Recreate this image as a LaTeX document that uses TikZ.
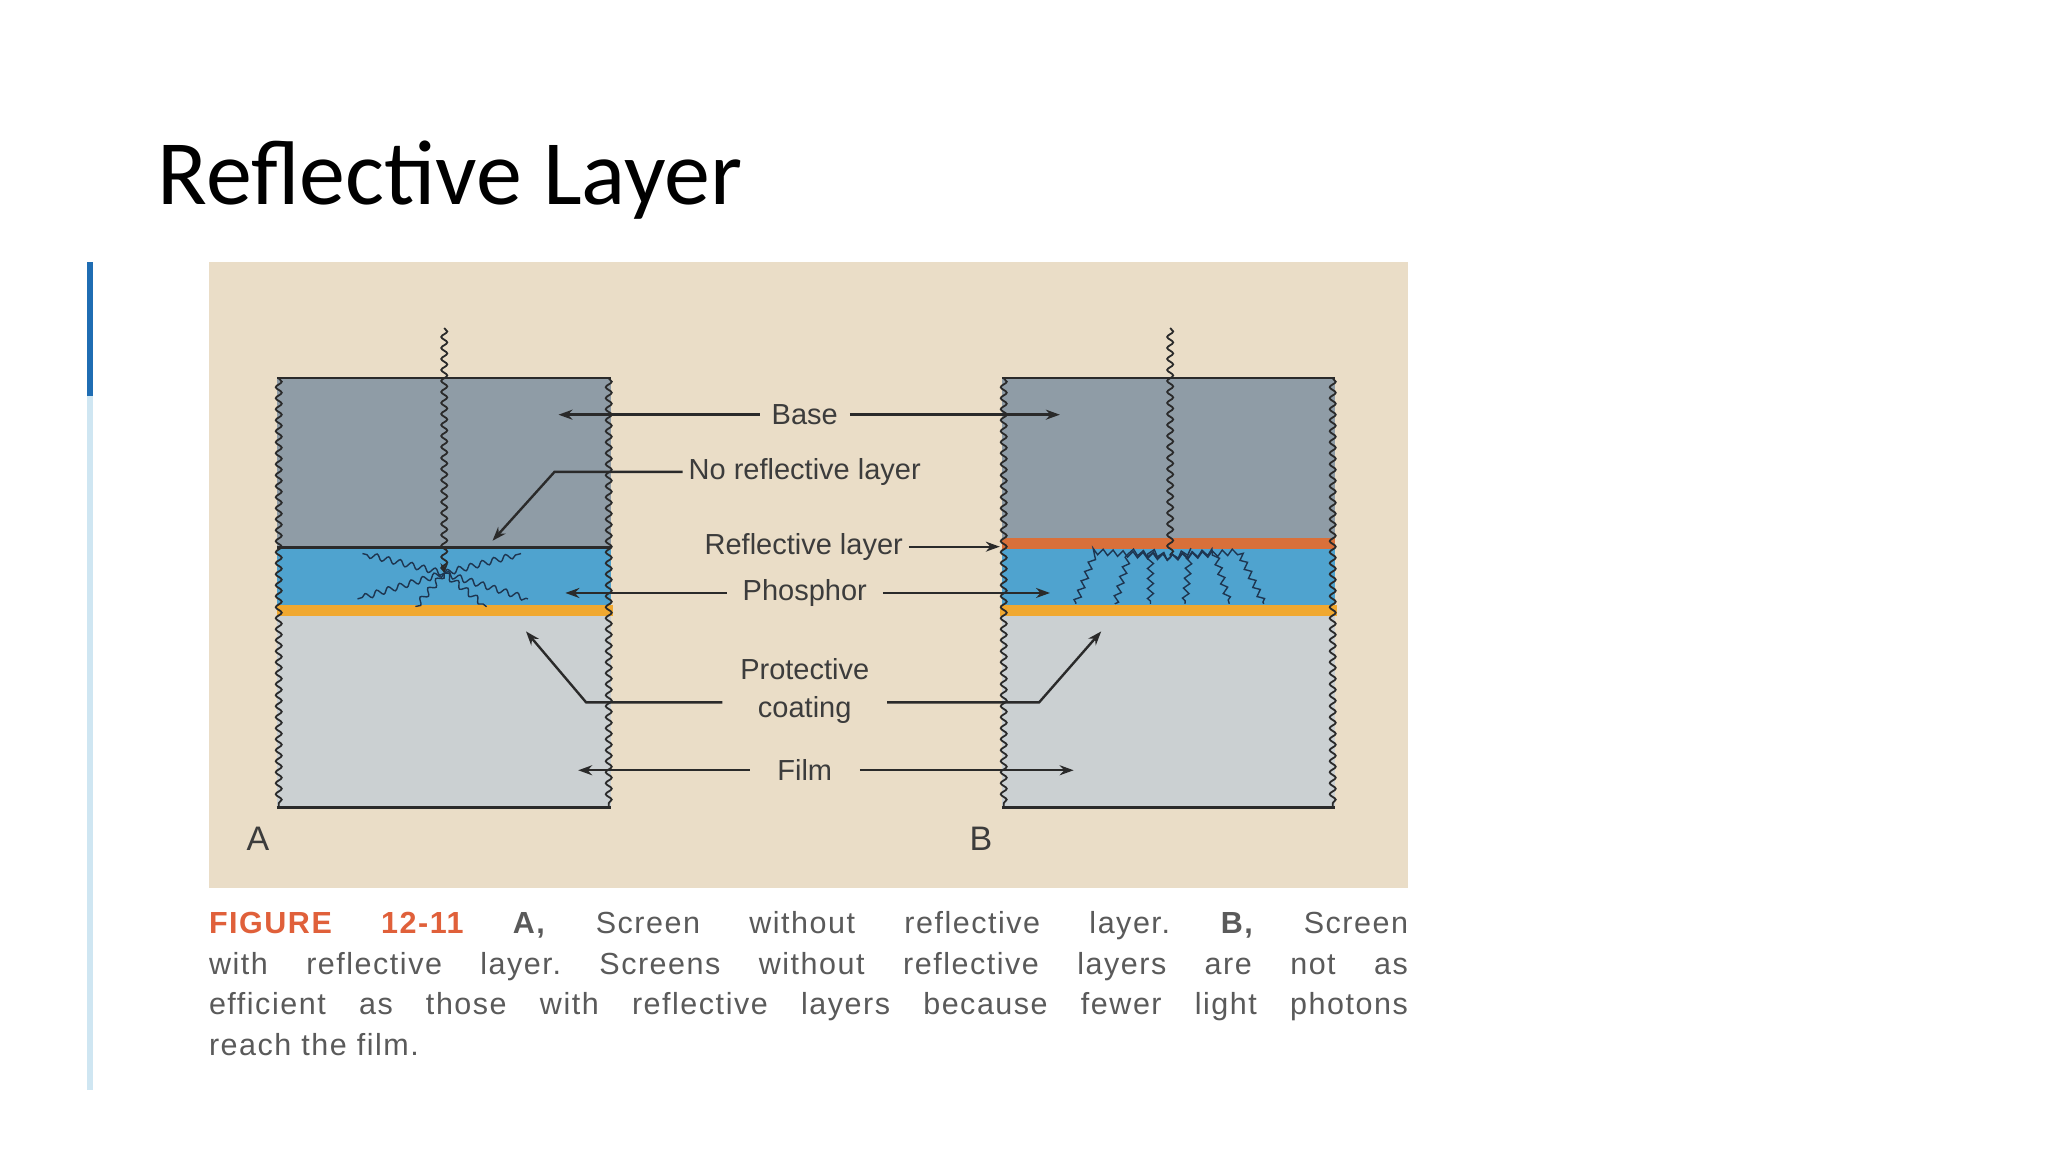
\documentclass[tikz,border=0pt]{standalone}
\usepackage{fontspec}
\setmainfont{Liberation Sans}
\newfontfamily\titlefont{Carlito}
\newfontfamily\capfont[LetterSpace=5]{Liberation Sans}
\usetikzlibrary{decorations.pathmorphing,arrows.meta}
\frenchspacing
\definecolor{panel}{HTML}{EADDC7}
\definecolor{basec}{HTML}{8F9CA6}
\definecolor{phos}{HTML}{4FA3CF}
\definecolor{yel}{HTML}{F0A830}
\definecolor{ora}{HTML}{D9703A}
\definecolor{filmc}{HTML}{CBD0D2}
\definecolor{ink}{HTML}{2A2A2A}
\definecolor{lbl}{HTML}{3C3C3C}
\definecolor{cap}{HTML}{5A5A5A}
\definecolor{figred}{HTML}{E0603A}
\definecolor{barlight}{HTML}{CFE6F2}
\definecolor{bardark}{HTML}{1F6DB3}
\definecolor{photon}{HTML}{1E3550}
\tikzset{
  x=0.985pt,y=-0.985pt,
  wav/.style={ink,line width=1.8pt,decorate,decoration={snake,segment length=11pt,amplitude=3pt}},
  lab/.style={font=\fontsize{29}{32}\selectfont,text=lbl,inner sep=0pt},
  ptr/.style={ink,line width=2.4pt,-{Stealth[length=14pt,width=10pt]}},
  capl/.style={font=\capfont\fontsize{30.5}{36}\selectfont\frenchspacing,text=cap,inner sep=0pt,anchor=base west}
}
\begin{document}
\begin{tikzpicture}
\useasboundingbox (0,0) rectangle (2079.2,1169.5);
\fill[white] (0,0) rectangle (2079.2,1169.5);
% side bar
\fill[barlight] (88,266) rectangle (94,1107);
\fill[bardark] (88,266) rectangle (94,402);
% title
\node[anchor=base west,inner sep=0pt,font=\titlefont\fontsize{92}{100}\selectfont] (title) at (160,208) {Reflective Layer};
% panel
\fill[panel] (212,266) rectangle (1429,902);
% ---------- A ----------
\fill[basec] (281,384) rectangle (620,556);
\fill[phos] (281,556) rectangle (620,614);
\fill[yel] (281,614) rectangle (622,625);
\fill[filmc] (281,625) rectangle (620,820);
\draw[ink,line width=2.5pt] (281,384) -- (620,384);
\draw[ink,line width=3pt] (281,556) -- (620,556);
\draw[ink,line width=2.5pt] (281,820) -- (620,820);
\draw[wav] (283,384) -- (283,820);
\draw[wav] (618,384) -- (618,820);
\draw[wav,-{Stealth[length=10pt]}] (451,333) -- (451,582);
\foreach \px/\py in {368/562,363/608,422/616,494/616,529/562,536/608}{
  \draw[photon,line width=1.4pt,decorate,decoration={snake,segment length=12pt,amplitude=3pt}] (451,582) -- (\px,\py);
}
% ---------- B ----------
\fill[basec] (1017,384) rectangle (1355,546);
\fill[ora] (1017,546) rectangle (1355,557);
\fill[phos] (1017,557) rectangle (1355,614);
\fill[yel] (1015,614) rectangle (1357,625);
\fill[filmc] (1017,625) rectangle (1355,820);
\draw[ink,line width=2.5pt] (1017,384) -- (1355,384);
\draw[ink,line width=2.5pt] (1017,820) -- (1355,820);
\draw[wav] (1019,384) -- (1019,820);
\draw[wav] (1353,384) -- (1353,820);
\draw[wav] (1188,333) -- (1188,564);
\foreach \ax/\bx in {1112/1092,1147/1132,1168/1168,1208/1203,1233/1248,1258/1283}{
  \draw[photon,line width=1.4pt,decorate,decoration={zigzag,segment length=10pt,amplitude=3pt}] (1188,566) -- (\ax,560) -- (\bx,613);
}
% ---------- labels ----------
\node[lab] (base) at (817,421) {Base};
\node[lab] (noref) at (817,479) {No reflective layer};
\node[lab] (refl) at (816,555) {Reflective layer};
\node[lab] (phosl) at (817,602) {Phosphor};
\node[lab,align=center,font=\fontsize{29}{38}\selectfont] (prot) at (817,702) {Protective\\coating};
\node[lab] (film) at (817,782) {Film};
\node[lab,font=\fontsize{34}{38}\selectfont] (A) at (262,852) {A};
\node[lab,font=\fontsize{34}{38}\selectfont] (B) at (996,852) {B};
% pointers
\coordinate (bl) at (567,421); \coordinate (br) at (1076,421);
\draw[ptr] (base.west)++(-12,0) -- (bl);
\draw[ptr] (base.east)++(12,0) -- (br);
\coordinate (nc) at (563,479); \coordinate (nt) at (500,549);
\draw[ptr] (noref.west)++(-6,0) -- (nc) -- (nt);
\coordinate (rt) at (1015,555);
\draw[ptr,line width=2pt] (refl.east)++(6,0) -- (rt);
\coordinate (pl) at (574,602); \coordinate (pr) at (1066,602);
\draw[ptr] (phosl.west)++(-16,0) -- (pl);
\draw[ptr] (phosl.east)++(16,0) -- (pr);
\coordinate (qlc) at (595,713); \coordinate (qlt) at (534,641);
\coordinate (qrc) at (1055,713); \coordinate (qrt) at (1118,641);
\draw[ptr] (prot.west |- qlc)++(-18,0) -- (qlc) -- (qlt);
\draw[ptr] (prot.east |- qrc)++(18,0) -- (qrc) -- (qrt);
\coordinate (fl) at (587,782); \coordinate (fr) at (1090,782);
\draw[ptr] (film.west)++(-28,0) -- (fl);
\draw[ptr] (film.east)++(28,0) -- (fr);
% caption
\node[capl] (c1) at (212,948) {\makebox[1199pt][s]{\textcolor{figred}{\bfseries FIGURE 12-11} \textbf{A,} Screen without reflective layer. \textbf{B,} Screen}};
\node[capl] (c2) at (212,989) {\makebox[1199pt][s]{with reflective layer. Screens without reflective layers are not as}};
\node[capl] (c3) at (212,1030) {\makebox[1199pt][s]{efficient as those with reflective layers because fewer light photons}};
\node[capl] (c4) at (212,1072) {reach the film.};
\end{tikzpicture}
\end{document}
